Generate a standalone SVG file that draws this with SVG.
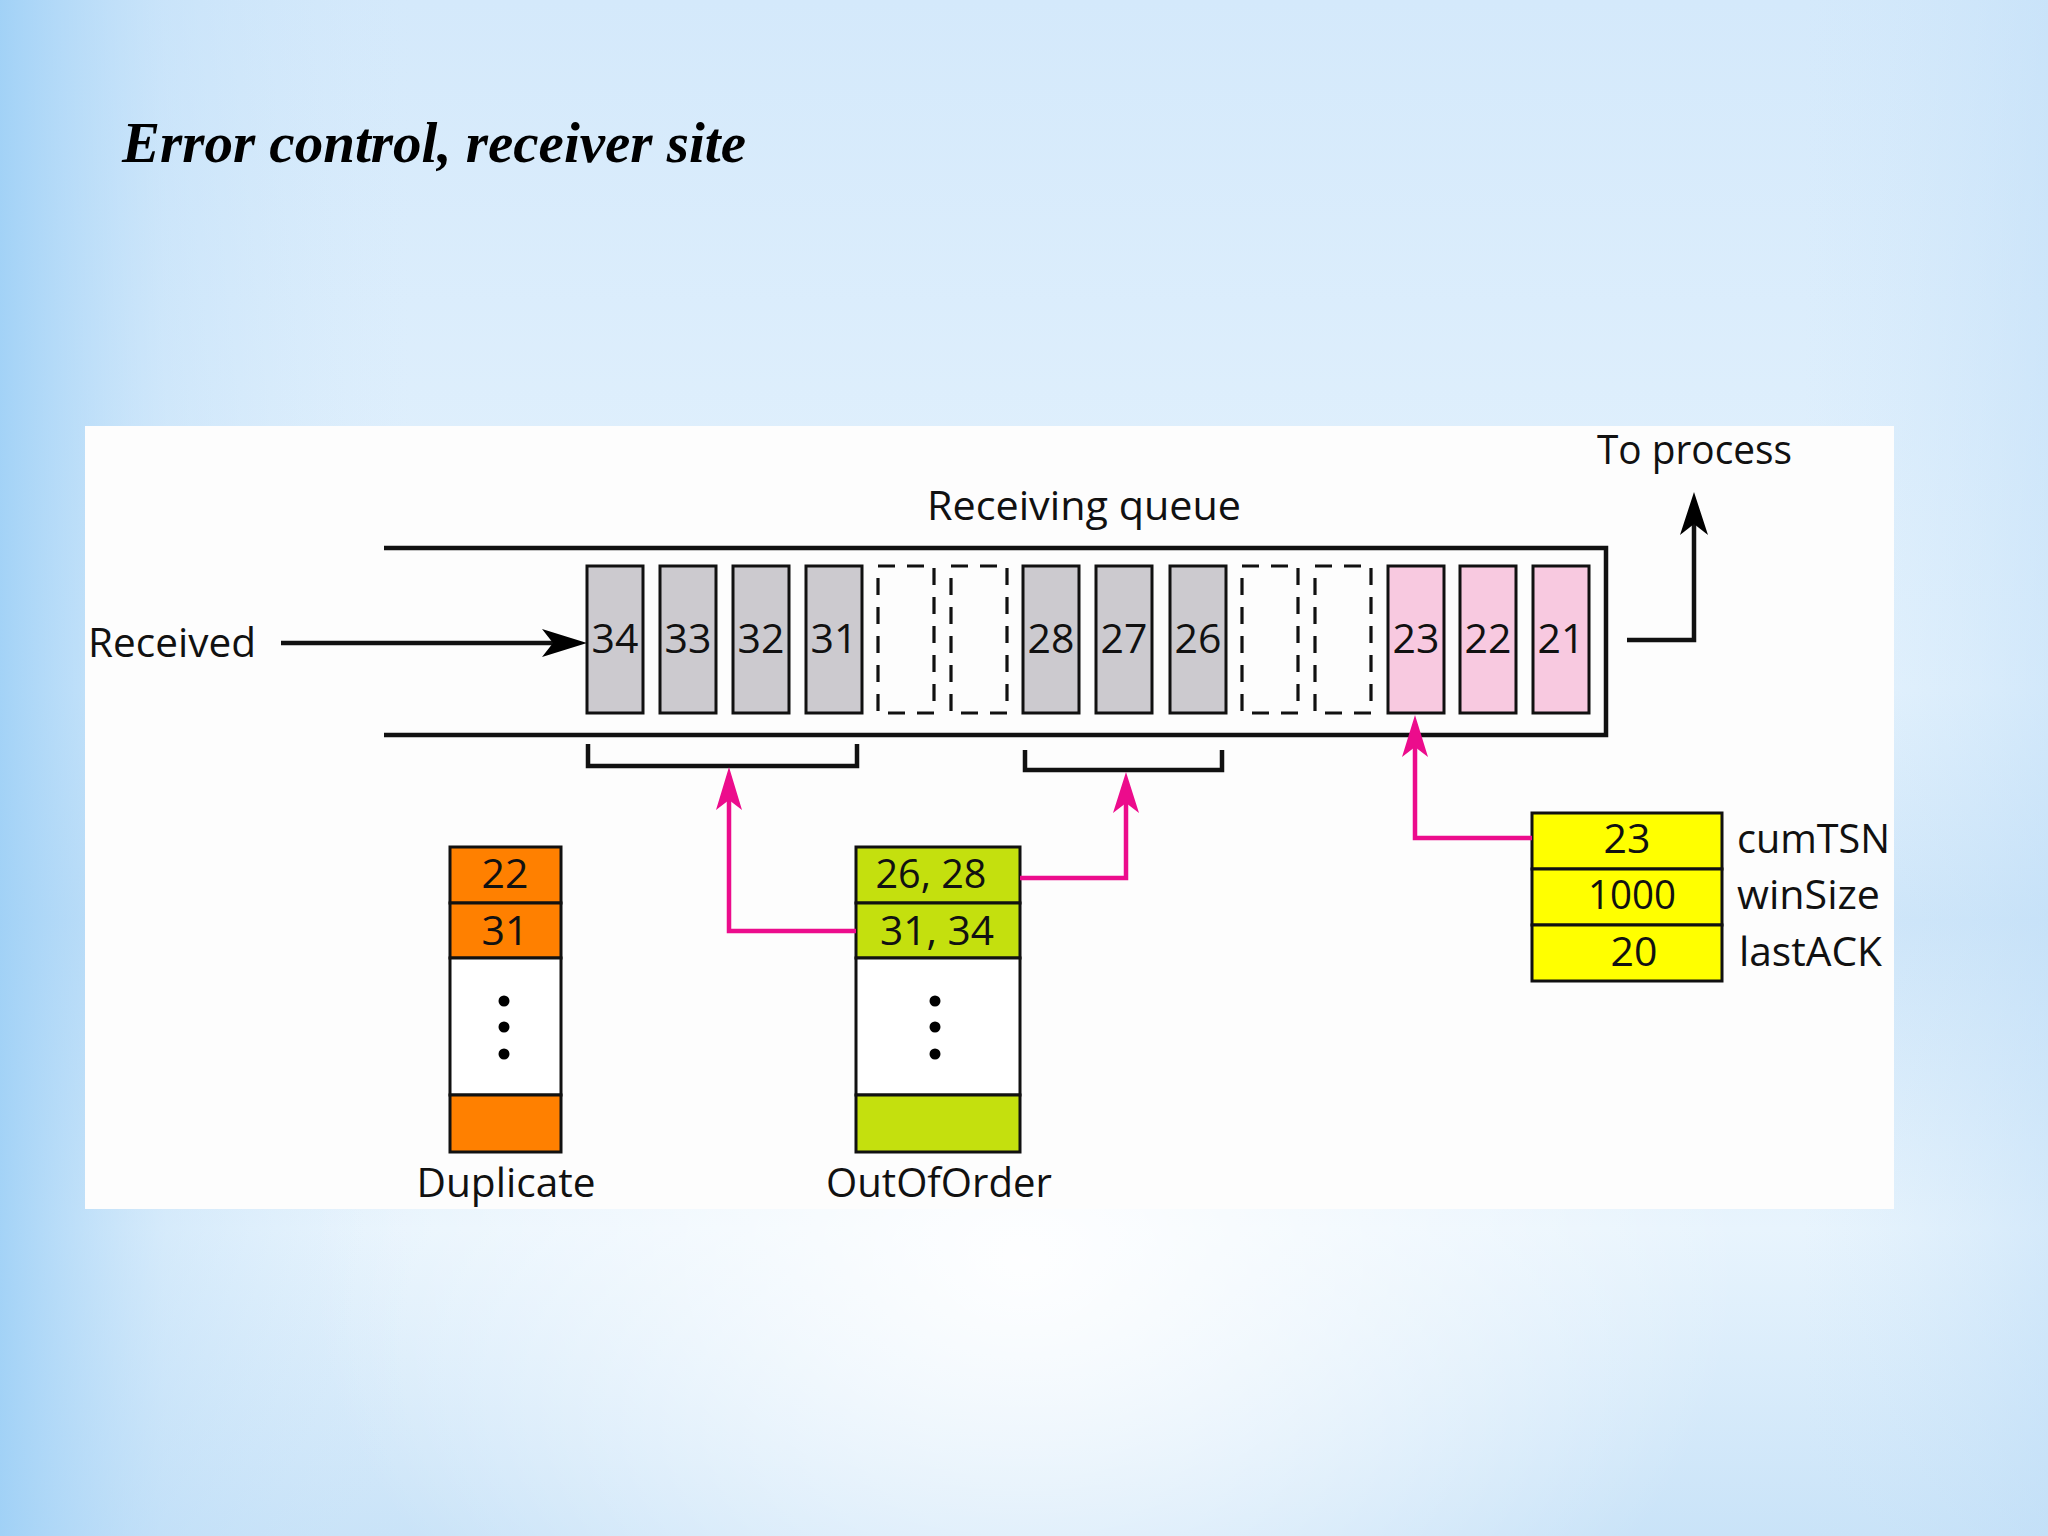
<svg xmlns="http://www.w3.org/2000/svg" width="2048" height="1536" viewBox="0 0 2048 1536">
<defs>
<linearGradient id="bgv" x1="0" y1="0" x2="0" y2="1">
<stop offset="0" stop-color="#d4e9fb"/>
<stop offset="0.45" stop-color="#e4f2fd"/>
<stop offset="0.6" stop-color="#cfe6f9"/>
<stop offset="0.8" stop-color="#e8f4fd"/>
<stop offset="1" stop-color="#c9e3f8"/>
</linearGradient>
<linearGradient id="lefte" x1="0" y1="0" x2="1" y2="0">
<stop offset="0" stop-color="#9ccff6" stop-opacity="0.9"/>
<stop offset="0.08" stop-color="#b9dcf8" stop-opacity="0.4"/>
<stop offset="0.2" stop-color="#cfe6f9" stop-opacity="0"/>
<stop offset="0.88" stop-color="#cfe6f9" stop-opacity="0"/>
<stop offset="1" stop-color="#bcdcf7" stop-opacity="0.45"/>
</linearGradient>
<radialGradient id="glow" cx="0.5" cy="0.82" r="0.35">
<stop offset="0" stop-color="#ffffff" stop-opacity="0.95"/>
<stop offset="1" stop-color="#ffffff" stop-opacity="0"/>
</radialGradient>
<style>
.t{font-family:"Open Sans","Noto Sans","Liberation Sans",sans-serif;font-size:41px;fill:#111}
.c{text-anchor:middle}
.q{stroke:#111;stroke-width:3;}
.grey{fill:#cccacf}
.pinkf{fill:#f8c9e0}
.dash{fill:none;stroke:#111;stroke-width:3.2;stroke-dasharray:17 12}
.ln{fill:none;stroke:#111;stroke-width:4.5}
.pk{fill:none;stroke:#ec0c8c;stroke-width:4.5}
.pkh{fill:#ec0c8c}
.cell{stroke:#111;stroke-width:3}
</style>
</defs>
<rect x="0" y="0" width="2048" height="1536" fill="url(#bgv)"/>
<rect x="0" y="0" width="2048" height="1536" fill="url(#lefte)"/>
<rect x="0" y="0" width="2048" height="1536" fill="url(#glow)"/>
<text x="122" y="162" font-family="Liberation Serif,serif" font-size="58" font-weight="bold" font-style="italic" textLength="624" lengthAdjust="spacingAndGlyphs" fill="#000">Error control, receiver site</text>
<rect x="85" y="426" width="1809" height="783" fill="#fdfdfd"/>

<g id="queue">
<path class="ln" d="M384,548 H1606 V735 H384"/>
<text class="t c" x="1084" y="520" textLength="314" lengthAdjust="spacingAndGlyphs">Receiving queue</text>
</g>
<g id="received"><text class="t" x="88" y="657" textLength="168" lengthAdjust="spacingAndGlyphs">Received</text></g>
<g id="toprocess"><text class="t" x="1597" y="464" textLength="195" lengthAdjust="spacingAndGlyphs">To process</text></g>

<g id="chunk34"><rect class="q grey" x="587" y="566" width="56" height="147"/><text class="t c" x="615" y="653">34</text></g>
<g id="chunk33"><rect class="q grey" x="660" y="566" width="56" height="147"/><text class="t c" x="688" y="653">33</text></g>
<g id="chunk32"><rect class="q grey" x="733" y="566" width="56" height="147"/><text class="t c" x="761" y="653">32</text></g>
<g id="chunk31"><rect class="q grey" x="806" y="566" width="56" height="147"/><text class="t c" x="834" y="653">31</text></g>
<g id="empty30"><rect class="dash" x="878" y="566" width="56" height="147"/></g>
<g id="empty29"><rect class="dash" x="951" y="566" width="56" height="147"/></g>
<g id="chunk28"><rect class="q grey" x="1023" y="566" width="56" height="147"/><text class="t c" x="1051" y="653">28</text></g>
<g id="chunk27"><rect class="q grey" x="1096" y="566" width="56" height="147"/><text class="t c" x="1124" y="653">27</text></g>
<g id="chunk26"><rect class="q grey" x="1170" y="566" width="56" height="147"/><text class="t c" x="1198" y="653">26</text></g>
<g id="empty25"><rect class="dash" x="1242" y="566" width="56" height="147"/></g>
<g id="empty24"><rect class="dash" x="1315" y="566" width="56" height="147"/></g>
<g id="chunk23"><rect class="q pinkf" x="1388" y="566" width="56" height="147"/><text class="t c" x="1416" y="653">23</text></g>
<g id="chunk22"><rect class="q pinkf" x="1460" y="566" width="56" height="147"/><text class="t c" x="1488" y="653">22</text></g>
<g id="chunk21"><rect class="q pinkf" x="1533" y="566" width="56" height="147"/><text class="t c" x="1561" y="653">21</text></g>

<g id="bracket1"><path class="ln" d="M588,744 V766 H857 V744"/></g>
<g id="bracket2"><path class="ln" d="M1025,750 V770 H1222 V750"/></g>

<g id="duplicate">
<rect class="cell" x="450" y="847" width="111" height="56" fill="#ff8000"/>
<rect class="cell" x="450" y="903" width="111" height="55" fill="#ff8000"/>
<rect class="cell" x="450" y="958" width="111" height="137" fill="#ffffff"/>
<rect class="cell" x="450" y="1095" width="111" height="57" fill="#ff8000"/>
<text class="t c" x="505" y="888">22</text>
<text class="t c" x="505" y="945">31</text>
<circle cx="504" cy="1001" r="5.5" fill="#000"/><circle cx="504" cy="1027" r="5.5" fill="#000"/><circle cx="504" cy="1054" r="5.5" fill="#000"/>
<text class="t c" x="506" y="1197" textLength="179" lengthAdjust="spacingAndGlyphs">Duplicate</text>
</g>

<g id="outoforder">
<rect class="cell" x="856" y="847" width="164" height="56" fill="#c4e00e"/>
<rect class="cell" x="856" y="903" width="164" height="55" fill="#c4e00e"/>
<rect class="cell" x="856" y="958" width="164" height="137" fill="#ffffff"/>
<rect class="cell" x="856" y="1095" width="164" height="57" fill="#c4e00e"/>
<text class="t c" x="931" y="888" textLength="111" lengthAdjust="spacingAndGlyphs">26, 28</text>
<text class="t c" x="937" y="945" textLength="114" lengthAdjust="spacingAndGlyphs">31, 34</text>
<circle cx="935" cy="1001" r="5.5" fill="#000"/><circle cx="935" cy="1027" r="5.5" fill="#000"/><circle cx="935" cy="1054" r="5.5" fill="#000"/>
<text class="t c" x="939" y="1197" textLength="226" lengthAdjust="spacingAndGlyphs">OutOfOrder</text>
</g>

<g id="state">
<rect class="cell" x="1532" y="813" width="190" height="56" fill="#ffff00"/>
<rect class="cell" x="1532" y="869" width="190" height="56" fill="#ffff00"/>
<rect class="cell" x="1532" y="925" width="190" height="56" fill="#ffff00"/>
<text class="t c" x="1627" y="853">23</text>
<text class="t c" x="1632" y="909" textLength="88" lengthAdjust="spacingAndGlyphs">1000</text>
<text class="t c" x="1634" y="966">20</text>
<text class="t" x="1737" y="853" textLength="153" lengthAdjust="spacingAndGlyphs">cumTSN</text>
<text class="t" x="1737" y="909" textLength="143" lengthAdjust="spacingAndGlyphs">winSize</text>
<text class="t" x="1739" y="966" textLength="143" lengthAdjust="spacingAndGlyphs">lastACK</text>
</g>

<g id="connectors">
<path class="ln" d="M281,643 H555"/>
<polygon fill="#000" points="587,643 542,629 553,643 542,657"/>
<path class="ln" d="M1627,640 H1694 V520"/>
<polygon fill="#000" points="1694,492 1680,535 1694,524 1708,535"/>
<path class="pk" d="M856,931 H729 V795"/>
<polygon class="pkh" points="729,767 716,810 729,800 742,810"/>
<path class="pk" d="M1020,878 H1126 V800"/>
<polygon class="pkh" points="1126,772 1113,813 1126,803 1139,813"/>
<path class="pk" d="M1532,838 H1415 V745"/>
<polygon class="pkh" points="1415,715 1402,757 1415,747 1428,757"/>
</g>
</svg>
